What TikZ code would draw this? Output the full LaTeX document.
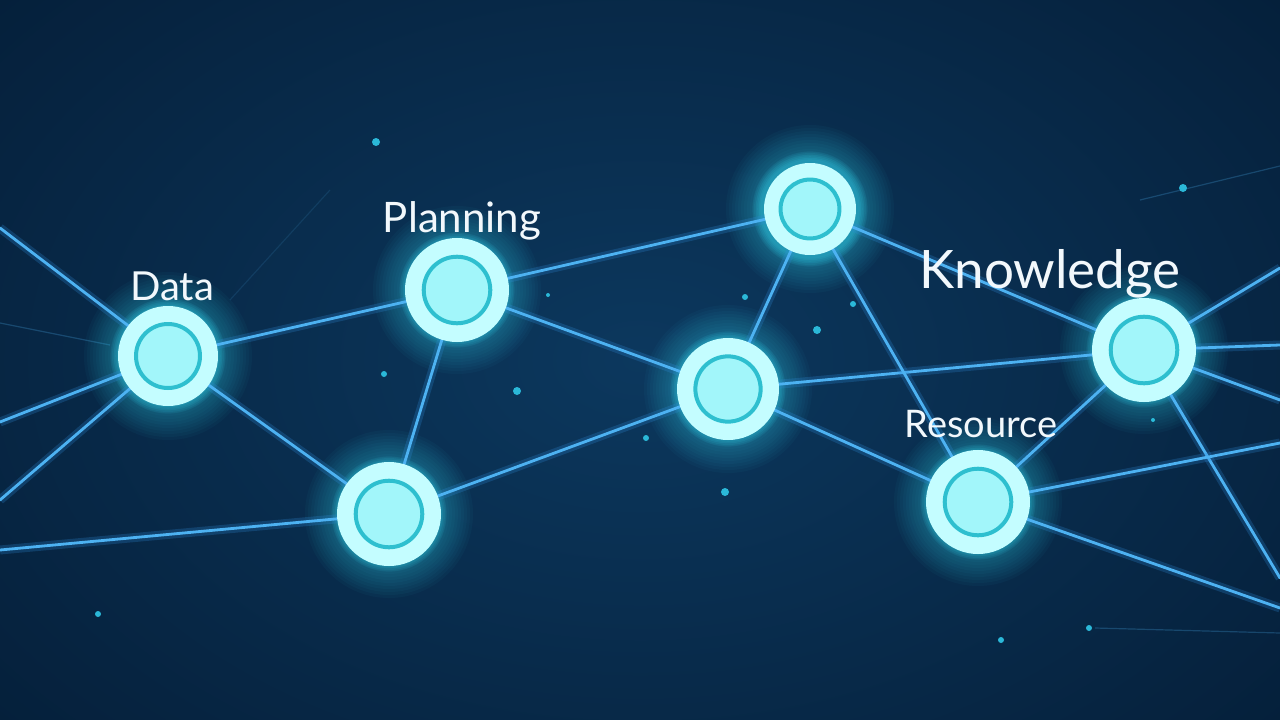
\documentclass[tikz,border=0pt]{standalone}
\usepackage{fontspec}
\setmainfont{Lato}
\definecolor{bgin}{HTML}{0C385E}
\definecolor{bgout}{HTML}{05203B}
\definecolor{linkc}{HTML}{4DB2F2}
\definecolor{linkglow}{HTML}{2D8AD8}
\definecolor{hubouter}{HTML}{C4FDFF}
\definecolor{hubinner}{HTML}{A2F6FA}
\definecolor{ringc}{HTML}{2EBFCF}
\definecolor{glowc}{HTML}{36DCF4}
\definecolor{dotc}{HTML}{2BB8D8}
\definecolor{txtc}{HTML}{F2F8FC}
\pgfdeclarelayer{bgl}
\pgfdeclarelayer{glowl}
\pgfdeclarelayer{edgel}
\pgfsetlayers{bgl,glowl,edgel,main}
\tikzset{
  hub/.style={circle, minimum size=#1, inner sep=0pt, fill=hubouter,
    path picture={\draw[line width=4pt, draw=ringc, fill=hubinner]
      (path picture bounding box.center) circle[radius=0.32*#1];}},
  hub/.default=100pt,
  link/.style={draw=linkc, line width=2.8pt, line cap=round,
    preaction={draw=linkglow, line width=9pt, opacity=0.25}},
  faint/.style={draw=linkc, line width=1.2pt, opacity=0.25},
  lbl/.style={text=txtc, anchor=base, inner sep=0pt},
  dot/.style={fill=dotc}
}
\begin{document}
\begin{tikzpicture}[x=1pt,y=-1pt]
\useasboundingbox (0,0) rectangle (1280,720);
% hubs
\node[hub] (data) at (168,356) {};
\node[hub=104pt] (plan) at (457,290) {};
\node[hub=92pt] (top) at (810,209) {};
\node[hub=102pt] (mid) at (728,389) {};
\node[hub=104pt] (bl) at (389,514) {};
\node[hub=104pt] (know) at (1144,350) {};
\node[hub=104pt] (res) at (978,502) {};
% off-canvas ends
\coordinate (L1) at (0,228);
\coordinate (L2) at (0,422);
\coordinate (L3) at (0,500);
\coordinate (L4) at (0,550);
\coordinate (R1) at (1280,268);
\coordinate (R2) at (1280,345);
\coordinate (R3) at (1280,400);
\coordinate (R4) at (1280,578);
\coordinate (R5) at (1280,443);
\coordinate (R6) at (1280,608);
% labels
\node[lbl, font=\fontsize{40}{42}\selectfont] (tdata) at (172,300) {Data};
\node[lbl, font=\fontsize{42}{44}\selectfont] (tplan) at (462,232) {Planning};
\node[lbl, font=\fontsize{53}{55}\selectfont] (tknow) at (1050,288) {Knowledge};
\node[lbl, font=\fontsize{38}{40}\selectfont] (tres) at (981,437) {Resource};

\begin{pgfonlayer}{bgl}
  \shade[inner color=bgin, outer color=bgout] (-200,-200) rectangle (1480,920);
  % faint background lines
  \coordinate (f1a) at (0,323); \coordinate (f1b) at (110,345);
  \coordinate (f2a) at (1140,200); \coordinate (f2b) at (1280,166);
  \coordinate (f3a) at (1095,628); \coordinate (f3b) at (1280,633);
  \coordinate (f4a) at (230,300); \coordinate (f4b) at (330,190);
  \draw[faint] (f1a) -- (f1b);
  \draw[faint] (f2a) -- (f2b);
  \draw[faint] (f3a) -- (f3b);
  \draw[faint, opacity=0.12] (f4a) -- (f4b);
  % dots
  \foreach \p/\r in {{376,142}/4,{1183,188}/4,{745,297}/3,{817,330}/4,{853,304}/3,
                     {517,391}/4,{384,374}/3,{646,438}/3,{725,492}/4,{1001,640}/3,
                     {1089,628}/3,{98,614}/3,{548,295}/2,{1153,420}/2}
    \fill[dot] (\p) circle[radius=\r];
\end{pgfonlayer}

\begin{pgfonlayer}{glowl}
  \foreach \n in {data,plan,top,mid,bl,know,res} {
    \foreach \k in {1,...,12}
      \fill[glowc, opacity=0.035] (\n.center) circle[radius=48pt+\k*3pt];
    \foreach \k in {1,...,6}
      \fill[glowc, opacity=0.09] (\n.center) circle[radius=48pt+\k*1.6pt];
  }
\end{pgfonlayer}

\begin{pgfonlayer}{edgel}
  \draw[link] (data) -- (plan);
  \draw[link] (data) -- (bl);
  \draw[link] (plan) -- (bl);
  \draw[link] (plan) -- (mid);
  \draw[link] (plan) -- (top);
  \draw[link] (bl) -- (mid);
  \draw[link] (mid) -- (top);
  \draw[link] (mid) -- (know);
  \draw[link] (top) -- (know);
  \draw[link] (top) -- (res);
  \draw[link] (mid) -- (res);
  \draw[link] (res) -- (know);
  \draw[link] (data) -- (L1);
  \draw[link] (data) -- (L2);
  \draw[link] (data) -- (L3);
  \draw[link] (bl) -- (L4);
  \draw[link] (know) -- (R1);
  \draw[link] (know) -- (R2);
  \draw[link] (know) -- (R3);
  \draw[link] (know) -- (R4);
  \draw[link] (res) -- (R5);
  \draw[link] (res) -- (R6);
\end{pgfonlayer}
\end{tikzpicture}
\end{document}
